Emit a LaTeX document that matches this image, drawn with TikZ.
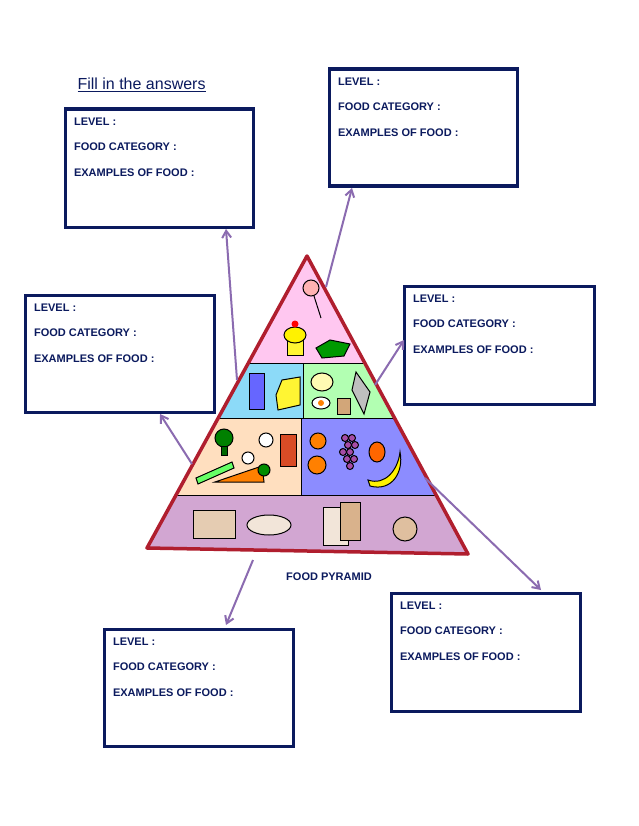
\documentclass[tikz,border=0pt]{standalone}
\usepackage{fontspec}
\setmainfont{Liberation Sans}
\usetikzlibrary{arrows.meta}
\begin{document}
\begin{tikzpicture}[x=1pt,y=-1pt,
  ansbox/.style={draw=boxblue,line width=3.5pt,minimum width=#1,anchor=north west,inner sep=0pt},
  lbl/.style={anchor=west,font=\fontsize{11}{13}\selectfont\bfseries,text=boxblue},
  arr/.style={draw=arrpurple,line width=2pt,-{Straight Barb[length=7pt,width=9pt]}},
  outl/.style={draw=black,line width=1pt}]
\definecolor{boxblue}{HTML}{0B1A5E}
\definecolor{arrpurple}{HTML}{8B6BB0}
\definecolor{pyred}{HTML}{B01E2E}
\useasboundingbox (0,0) rectangle (638,826);
\fill[white] (0,0) rectangle (638,826);
% pyramid tiers
\coordinate (A) at (307,256); \coordinate (L) at (147,548); \coordinate (R) at (468,554);
\fill[fill=pink!60!magenta!40] (A) -- (248,363) -- (365,363) -- cycle;
\fill[fill=cyan!45] (248,363) -- (303,363) -- (303,418) -- (218,418) -- cycle;
\fill[fill=green!30] (303,363) -- (365,363) -- (394,418) -- (303,418) -- cycle;
\fill[fill=orange!25] (218,418) -- (301,418) -- (301,495) -- (176,495) -- cycle;
\fill[fill=blue!45] (301,418) -- (394,418) -- (436,495) -- (301,495) -- cycle;
\fill[fill=violet!35] (176,495) -- (436,495) -- (R) -- (L) -- cycle;
\draw[line width=1pt] (248,363) -- (365,363) (218,418) -- (394,418) (176,495) -- (436,495)
  (303,363) -- (303,418) (301,418) -- (301,495);
\draw[pyred,line width=3.5pt,line join=round] (A) -- (R) -- (L) -- cycle;
% food sketches
\draw[outl,fill=red!30] (311,288) circle (8); \draw[outl] (314,296) -- (321,318);
\draw[outl,fill=yellow!80] (287,340) rectangle (303,355); \draw[outl,fill=yellow] (295,335) ellipse (11 and 8);
\fill[red] (295,324) circle (3.5);
\draw[outl,fill=green!60!black] (316,348) -- (330,340) -- (350,344) -- (344,356) -- (322,358) -- cycle;
\draw[outl,fill=blue!60] (249,373) rectangle (264,409);
\draw[outl,fill=yellow!80] (276,395) -- (282,380) -- (300,377) -- (300,405) -- (278,410) -- cycle;
\draw[outl,fill=yellow!30] (322,382) ellipse (11 and 9);
\draw[outl,fill=white] (321,403) ellipse (9 and 6); \fill[orange] (321,403) circle (3);
\draw[outl,fill=brown!70] (337,398) rectangle (350,414);
\draw[outl,fill=gray!50] (356,372) -- (370,392) -- (364,414) -- (352,390) -- cycle;
\draw[outl,fill=green!50!black] (224,438) circle (9); \draw[outl,fill=green!40!black] (221,446) rectangle (227,455);
\draw[outl,fill=white] (266,440) circle (7);
\draw[outl,fill=brown!60!red] (280,434) rectangle (296,466);
\draw[outl,fill=green!60] (196,478) -- (232,462) -- (234,468) -- (198,484) -- cycle;
\draw[outl,fill=orange] (215,482) -- (262,466) -- (264,482) -- cycle;
\draw[outl,fill=white] (248,458) circle (6);
\draw[outl,fill=green!55!black] (264,470) circle (6);
\draw[outl,fill=orange] (318,441) circle (8); \draw[outl,fill=orange] (317,465) circle (9);
\foreach \p in {(345,438),(352,438),(348,445),(355,445),(343,452),(350,452),(347,459),(354,459),(350,466)}
  \draw[outl,fill=violet!70] \p circle (3.5);
\draw[outl,fill=orange!80!red] (377,452) ellipse (8 and 10);
\draw[outl,fill=yellow] (368,480) .. controls (385,486) and (398,470) .. (400,452) .. controls (404,472) and (392,492) .. (370,486) -- cycle;
\draw[outl,fill=brown!40] (193,510) rectangle (235,538);
\draw[outl,fill=brown!20] (269,525) ellipse (22 and 10);
\draw[outl,fill=brown!20] (323,507) rectangle (348,545); \draw[outl,fill=brown!60] (340,502) rectangle (360,540);
\draw[outl,fill=brown!50] (405,529) circle (12);
% title & caption
\node[anchor=west,font=\fontsize{16}{18}\selectfont,text=boxblue] (title) at (74,85) {\underline{Fill in the answers}};
\node[font=\fontsize{11}{13}\selectfont\bfseries,text=boxblue] (cap) at (329,577) {FOOD PYRAMID};
% boxes
\node[ansbox=188pt,minimum height=118pt] (b1) at (63.5,107.5) {};
\node[ansbox=188pt,minimum height=117pt] (b2) at (327.5,67.5) {};
\node[ansbox=189pt,minimum height=117pt] (b3) at (23.5,293.5) {};
\node[ansbox=190pt,minimum height=118pt] (b4) at (402.5,284.5) {};
\node[ansbox=189pt,minimum height=117pt] (b5) at (102.5,627.5) {};
\node[ansbox=189pt,minimum height=118pt] (b6) at (389.5,591.5) {};
\foreach \b in {b1,b2,b3,b4,b5,b6}{
  \node[lbl] at ([xshift=7pt,yshift=-14pt]\b.north west) {LEVEL :};
  \node[lbl] at ([xshift=7pt,yshift=-39pt]\b.north west) {FOOD CATEGORY :};
  \node[lbl] at ([xshift=7pt,yshift=-65pt]\b.north west) {EXAMPLES OF FOOD :};
}
% arrows
\coordinate (s1) at (237,380); \coordinate (e1) at (226,229);
\coordinate (s2) at (326,287); \coordinate (e2) at (352,188);
\coordinate (s3) at (192,464); \coordinate (e3) at (160,414);
\coordinate (s4) at (375,385); \coordinate (e4) at (404,340);
\coordinate (s5) at (253,560); \coordinate (e5) at (226,625);
\coordinate (s6) at (425,478); \coordinate (e6) at (541,590);
\foreach \i in {1,...,6} \draw[arr] (s\i) -- (e\i);
\end{tikzpicture}
\end{document}
